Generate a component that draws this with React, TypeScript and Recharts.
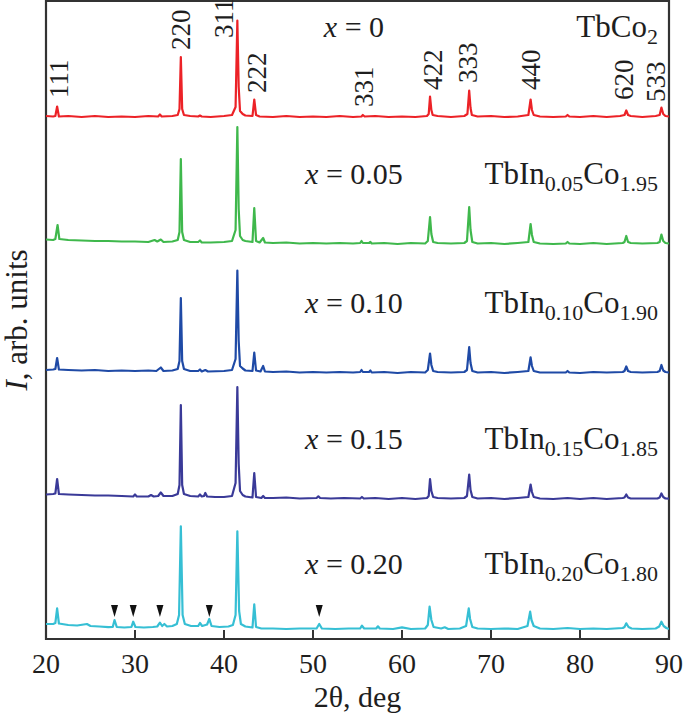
import { LineChart, Line, XAxis, YAxis, ReferenceArea, ReferenceDot } from 'recharts';

// XRD patterns, [2θ, intensity above each pattern's own baseline]
const tbCo2: [number, number][] = [
  [20, 1], [20.8, 0.5], [21.05, 1], [21.25, 10.5], [21.45, 0.5], [22.5, 1], [24, 0], [25.5, 1], [27, 0], [28.5, 0.5],
  [30, 0], [31.5, 1], [32.6, 0.5], [32.8, 2.5], [33.0, 0.5], [34.2, 1], [34.8, 2], [35.0, 8], [35.15, 60], [35.3, 8],
  [35.5, 2], [36.2, 1], [37.1, 0.5], [37.3, 1.5], [37.5, 0.5], [38.5, 0], [40, 1], [40.9, 2], [41.3, 10], [41.5, 96.5],
  [41.65, 30], [41.8, 6], [42.1, 3], [42.4, 1.5], [43.2, 1], [43.4, 17.5], [43.6, 2], [44, 0.5], [45.5, 0], [47, 1],
  [48.5, 0], [50, 0.5], [51.5, 0], [53, 1], [54.5, 0], [55.45, 0.5], [55.6, 2], [55.8, 0.5], [57, 1], [58.5, 0],
  [60, 0.5], [61.5, 0], [62.8, 1], [63.0, 3], [63.15, 20.5], [63.3, 7], [63.45, 2], [64, 1], [65.5, 0], [67, 1],
  [67.35, 3], [67.55, 26.5], [67.7, 9], [67.85, 2], [68.5, 0.5], [70, 1], [71.5, 0], [73, 0.5], [74.2, 2], [74.45, 17.5],
  [74.6, 7], [74.8, 2], [75.5, 0.5], [77, 0], [78.4, 0.5], [78.6, 2], [78.8, 0.5], [80, 0], [81.5, 1], [83, 0],
  [84.5, 1], [85.0, 2], [85.2, 6.5], [85.4, 2], [85.7, 1], [87, 0], [88.5, 1], [88.95, 2], [89.15, 9.5], [89.35, 3],
  [89.6, 1], [90, 0.5],
];

const tbIn005: [number, number][] = [
  [20, 4.5], [20.8, 4], [21.05, 5], [21.3, 19], [21.5, 5], [22.5, 4], [24, 3.5], [25.5, 3], [27, 3], [28.5, 2.5],
  [30, 2.5], [31.5, 2], [32.2, 4], [32.5, 2.5], [32.9, 4.5], [33.2, 2], [34.2, 2.5], [34.8, 4], [35.0, 12], [35.15, 85],
  [35.3, 12], [35.5, 4], [36.2, 2], [37.1, 2], [37.3, 3.5], [37.5, 1.5], [38.5, 1.5], [40, 2], [40.9, 3], [41.3, 14],
  [41.5, 117], [41.65, 35], [41.8, 8], [42.1, 4], [42.4, 3], [43.2, 2], [43.4, 36], [43.6, 3], [44.0, 1.5], [44.4, 6],
  [44.6, 1.5], [45.5, 1], [47, 1.5], [48.5, 0.5], [50, 1], [51.5, 0.5], [53, 1], [54.5, 0.5], [55.3, 1], [55.45, 3],
  [55.6, 1], [56.3, 1], [56.45, 2], [56.6, 0.5], [58, 1], [59.5, 0], [61, 1], [62.6, 0.5], [62.9, 3], [63.15, 27],
  [63.3, 10], [63.5, 2], [64, 1], [65.5, 0.5], [67, 1], [67.3, 3], [67.55, 37], [67.7, 14], [67.9, 2], [68.5, 0.5],
  [70, 1], [71.5, 0], [73, 1], [74.2, 2], [74.45, 20], [74.6, 9], [74.8, 2], [75.5, 0.5], [77, 0], [78.4, 0.5],
  [78.6, 2], [78.8, 0.5], [80, 0], [81.5, 1], [83, 0], [84.8, 1], [85.0, 2], [85.2, 8], [85.4, 2], [85.7, 1],
  [87, 0.5], [88.7, 1], [88.95, 2], [89.15, 9.5], [89.35, 3], [89.6, 1], [90, 0.5],
];

const tbIn010: [number, number][] = [
  [20, 3], [20.8, 3.5], [21.05, 4], [21.25, 15], [21.45, 3.5], [22.5, 3], [24, 2.5], [25.5, 3], [27, 2], [28.5, 2.5],
  [30, 2], [31.5, 2.5], [32.4, 2], [32.9, 5.5], [33.2, 2], [34.2, 2.5], [34.8, 4], [35.0, 12], [35.15, 75], [35.3, 12],
  [35.5, 4], [36.2, 2], [37.1, 2], [37.3, 3.5], [37.5, 1.5], [37.9, 3], [38.2, 1.5], [40, 2], [40.9, 3], [41.3, 14],
  [41.5, 102.5], [41.65, 32], [41.8, 7], [42.1, 4.5], [42.4, 2.5], [43.2, 2], [43.4, 20.5], [43.6, 2.5], [44.1, 1.5], [44.4, 7],
  [44.6, 1.5], [45.5, 1], [47, 1.5], [48.5, 0.5], [50, 1], [51.5, 0.5], [53, 1], [54.5, 0.5], [55.3, 1], [55.45, 3],
  [55.6, 1], [56.3, 1], [56.45, 2.5], [56.6, 0.5], [58, 1], [59.5, 0], [61, 1], [62.6, 0.5], [62.9, 3], [63.15, 19.5],
  [63.3, 8], [63.5, 2], [64, 1], [65.5, 0.5], [67, 1], [67.3, 3], [67.55, 26], [67.7, 10], [67.9, 2], [68.5, 0.5],
  [70, 1], [71.5, 0], [73, 1], [74.2, 2], [74.45, 15.7], [74.6, 7], [74.8, 2], [75.5, 0.5], [77, 0.5], [78.4, 0.5],
  [78.6, 2], [78.8, 0.5], [80, 0], [81.5, 1], [83, 0.5], [84.8, 1], [85.0, 2], [85.2, 6.5], [85.4, 2], [85.7, 1],
  [87, 0.5], [88.7, 1], [88.95, 2], [89.15, 8], [89.35, 2.5], [89.6, 1], [90, 0.5],
];

const tbIn015: [number, number][] = [
  [20, 4.5], [20.8, 5], [21.05, 5.5], [21.25, 20], [21.45, 5], [22.5, 4.5], [24, 4], [25.5, 3.5], [27, 3.5], [28.5, 3],
  [29.8, 2.5], [30.0, 4.5], [30.2, 2.5], [31.5, 2.5], [31.8, 4], [32.1, 2.5], [32.6, 3], [32.9, 6.5], [33.2, 3], [34.2, 3],
  [34.8, 5], [35.0, 14], [35.15, 94], [35.3, 14], [35.5, 5], [36.2, 3], [37.1, 2.5], [37.3, 4.5], [37.5, 2.5], [37.75, 3],
  [37.9, 6], [38.1, 2.5], [39, 2], [40, 2], [40.9, 3], [41.3, 16], [41.5, 112], [41.65, 35], [41.8, 8], [42.1, 4],
  [42.4, 2.5], [43.2, 1.5], [43.4, 26], [43.6, 2], [44.2, 1], [44.4, 3], [44.6, 1], [45.5, 1], [47, 1.5], [48.5, 0.5],
  [50.4, 1], [50.6, 2.7], [50.8, 1], [52, 0.5], [53.5, 1], [55.3, 0.5], [55.5, 2], [55.7, 0.5], [57, 1], [58.5, 0],
  [60, 1], [61.5, 0], [62.8, 1], [63.0, 3], [63.15, 20], [63.3, 8], [63.5, 2], [64, 1], [65.5, 0.5], [67, 1],
  [67.3, 3], [67.55, 24.5], [67.7, 9], [67.9, 2], [68.5, 0.5], [70, 1], [71.5, 0], [73, 1], [74.2, 2], [74.45, 14.5],
  [74.6, 7], [74.8, 2], [75.5, 0.5], [77, 0], [78.6, 1], [80, 0], [81.5, 1], [83, 0], [84.8, 1], [85.0, 1.5],
  [85.2, 4.5], [85.4, 1.5], [85.7, 0.5], [87, 0.5], [88.7, 0.5], [88.95, 1.5], [89.15, 5.5], [89.35, 2], [89.6, 0.5], [90, 0.3],
];

const tbIn020: [number, number][] = [
  [20, 5], [20.8, 5], [21.05, 6], [21.25, 20.7], [21.45, 5.5], [22.5, 4], [23.5, 3.5], [24.6, 5], [25, 3], [26, 2.5],
  [27, 1.8], [27.5, 2], [27.7, 9], [27.95, 2], [28.8, 1.5], [29.6, 2], [29.8, 7.3], [30.05, 2], [31, 1.5], [32, 2],
  [32.5, 2.5], [32.8, 6.3], [33.05, 3], [33.3, 5], [33.6, 2.5], [34.2, 3], [34.7, 5], [34.95, 14], [35.15, 102.7], [35.35, 14],
  [35.6, 5], [36.3, 3], [37.1, 3], [37.3, 6], [37.55, 3], [38.1, 4.5], [38.35, 10], [38.6, 3], [39.5, 2], [40.5, 2.5],
  [41.0, 4], [41.3, 14], [41.5, 97.7], [41.7, 18], [41.9, 5], [42.4, 2.5], [43.2, 1.5], [43.4, 24.7], [43.6, 2], [44.2, 0.5],
  [45.5, 0.5], [47, 0], [48.5, 0.5], [50.4, 0.5], [50.7, 5], [51.0, 0.5], [52.5, 0], [54, 0.5], [55.3, 0.5], [55.5, 3.3],
  [55.75, 0.5], [57.1, 0.5], [57.3, 2.7], [57.5, 0.5], [59, 0], [60, 1.7], [61, 0], [62.6, 0.5], [62.9, 4], [63.1, 22.3],
  [63.3, 9], [63.55, 2], [64.4, 0.5], [64.8, 1.7], [65.2, 0], [66.5, 0.5], [67.2, 3], [67.5, 20.7], [67.65, 10], [67.9, 2],
  [68.5, 0.5], [70, 0], [71.5, 0.5], [73, 0], [74.1, 3], [74.4, 17.3], [74.55, 9], [74.8, 3], [75.5, 0.5], [77, 0],
  [78.6, 1], [80, 0], [81.5, 0.5], [83, 0], [84.8, 1], [85.0, 2], [85.2, 5.7], [85.45, 2], [85.8, 0.5], [87, 0],
  [88.5, 0.5], [88.9, 2.5], [89.15, 7.3], [89.4, 3], [89.7, 1], [90, 0],
];

const patterns = [tbCo2, tbIn005, tbIn010, tbIn015, tbIn020];
const xValues = ['0', '0.05', '0.10', '0.15', '0.20'];
const inFrac = ['', '0.05', '0.10', '0.15', '0.20'];
const coFrac = ['2', '1.95', '1.90', '1.85', '1.80'];

// vertical stacking of the patterns
const offsets = [522, 395, 266, 140, 10];
const colors = ['#ec2227', '#3fb84c', '#1f4aa6', '#3a3a98', '#36bfd4'];
// label baselines for each pattern (same units as the y axis)
const captionY = [602, 455, 326, 190, 65];

// Miller indices of the Laves-phase reflections, placed over the top pattern
const hklText = ['111', '220', '311', '222', '331', '422', '333', '440', '620', '533'];
const hklX = [22.47, 36.18, 41.01, 44.72, 56.74, 64.49, 68.43, 75.51, 85.96, 89.55];
const hklY = [541, 589, 601, 546, 532, 549, 556, 549, 539, 537];

// impurity reflections marked in the x = 0.20 pattern
const impurity = [27.7, 29.8, 32.8, 38.35, 50.7];

const xTicks = [20, 30, 40, 50, 60, 70, 80, 90];

const W = 685;
const H = 716;
const FONT = '"Liberation Serif", "Times New Roman", serif';
const INK = '#1e1e1e';

function XTick(props: any) {
  const { x, y, payload } = props;
  return (
    <g>
      <line x1={x} x2={x} y1={y} y2={y - 9} stroke="#333" strokeWidth={2} />
      <text x={x} y={y + 34} textAnchor="middle" fontFamily={FONT} fontSize={28} fill={INK}>
        {payload.value}
      </text>
    </g>
  );
}

export default function App() {
  return (
    <div style={{ position: 'absolute', left: 0, top: 0, width: W, height: H, background: '#fff' }}>
      <LineChart width={W} height={H} margin={{ top: 1, right: 16, bottom: 37, left: 46 }}>
        <XAxis
          type="number"
          dataKey="t"
          domain={[20, 90]}
          ticks={xTicks}
          allowDataOverflow
          height={40}
          axisLine={false}
          tickLine={false}
          tickSize={0}
          tickMargin={0}
          tick={(p: any) => <XTick {...p} />}
        />
        <YAxis type="number" domain={[0, 638]} allowDataOverflow hide />

        {patterns.map((pts, i) => (
          <Line
            key={i}
            data={pts.map(([t, v]) => ({ t, v: v + offsets[i] }))}
            dataKey="v"
            type="linear"
            stroke={colors[i]}
            strokeWidth={2.2}
            strokeLinejoin="round"
            dot={false}
            activeDot={false}
            isAnimationActive={false}
          />
        ))}

        <ReferenceArea x1={20} x2={90} y1={0} y2={638} fill="none" fillOpacity={0} stroke="#333" strokeWidth={2.2} ifOverflow="visible" />

        {hklText.map((s, i) => (
          <ReferenceDot
            key={'h' + s}
            x={hklX[i]}
            y={hklY[i]}
            r={0}
            ifOverflow="visible"
            shape={(p: any) => (
              <text transform={`translate(${p.cx},${p.cy}) rotate(-90)`} fontFamily={FONT} fontSize={27} fill={INK}>
                {s}
              </text>
            )}
          />
        ))}

        {xValues.map((v, i) => (
          <ReferenceDot
            key={'x' + i}
            x={54.6}
            y={captionY[i]}
            r={0}
            ifOverflow="visible"
            shape={(p: any) => (
              <text x={p.cx} y={p.cy} textAnchor="middle" fontFamily={FONT} fontSize={30} fill={INK}>
                <tspan fontStyle="italic">x</tspan> = {v}
              </text>
            )}
          />
        ))}

        {coFrac.map((c, i) => (
          <ReferenceDot
            key={'f' + i}
            x={88.76}
            y={captionY[i]}
            r={0}
            ifOverflow="visible"
            shape={(p: any) => (
              <text x={p.cx} y={p.cy} textAnchor="end" fontFamily={FONT} fontSize={31} fill={INK}>
                {inFrac[i] ? (
                  <>
                    TbIn<tspan fontSize={22} dy={7}>{inFrac[i]}</tspan>
                    <tspan dy={-7}>Co</tspan>
                    <tspan fontSize={22} dy={7}>{c}</tspan>
                  </>
                ) : (
                  <>
                    TbCo<tspan fontSize={22} dy={7}>{c}</tspan>
                  </>
                )}
              </text>
            )}
          />
        ))}

        {impurity.map((t) => (
          <ReferenceDot
            key={'m' + t}
            x={t}
            y={22}
            r={0}
            ifOverflow="visible"
            shape={(p: any) => (
              <path d={`M${p.cx - 3.5},${p.cy - 12} L${p.cx + 3.5},${p.cy - 12} L${p.cx},${p.cy} Z`} fill="#111" />
            )}
          />
        ))}
      </LineChart>

      <svg width={W} height={H} style={{ position: 'absolute', left: 0, top: 0, pointerEvents: 'none' }}>
        <text x={357.5} y={707} textAnchor="middle" fontFamily={FONT} fontSize={30} fill={INK}>
          2θ, deg
        </text>
        <text transform="translate(27,320) rotate(-90)" textAnchor="middle" fontFamily={FONT} fontSize={31} fill={INK}>
          <tspan fontStyle="italic">I</tspan>, arb. units
        </text>
      </svg>
    </div>
  );
}
